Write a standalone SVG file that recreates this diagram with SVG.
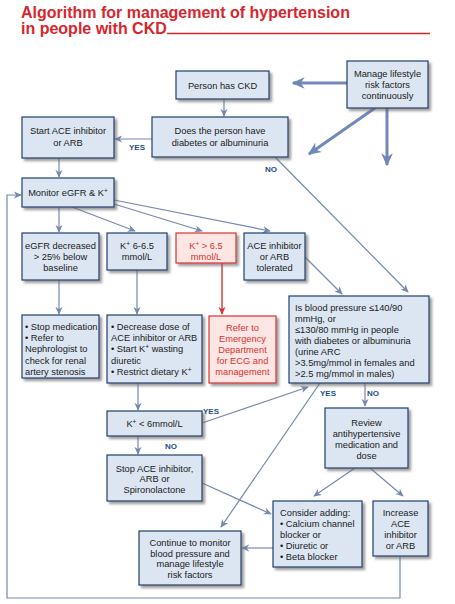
<svg xmlns="http://www.w3.org/2000/svg" width="455" height="604" viewBox="0 0 455 604">
<defs>
<filter id="sh" x="-10%" y="-10%" width="130%" height="130%">
<feDropShadow dx="2.5" dy="2.5" stdDeviation="1.2" flood-color="#6a6a6a" flood-opacity="0.65"/>
</filter>
<marker id="a" viewBox="0 0 10 10" refX="9" refY="5" markerWidth="8" markerHeight="8" markerUnits="userSpaceOnUse" orient="auto">
<path d="M0,0.5 L10,5 L0,9.5 L3,5 z" fill="#7488b1"/>
</marker>
<marker id="ar" viewBox="0 0 10 10" refX="9" refY="5" markerWidth="8" markerHeight="8" markerUnits="userSpaceOnUse" orient="auto">
<path d="M0,0.5 L10,5 L0,9.5 L3,5 z" fill="#d9322e"/>
</marker>
<marker id="at" viewBox="0 0 10 10" refX="9" refY="5" markerWidth="13" markerHeight="13" markerUnits="userSpaceOnUse" orient="auto">
<path d="M0,0.5 L10,5 L0,9.5 L3,5 z" fill="#7089b8"/>
</marker>
</defs>
<style>
.box{fill:#dce6f2;stroke:#1f3f6b;stroke-width:1.2;filter:url(#sh)}
.rbox{fill:#fde6e4;stroke:#d9322e;stroke-width:1.2;filter:url(#sh)}
text{font-family:"Liberation Sans",Arial,sans-serif;font-size:9.3px;fill:#1a1a1a}
.c{text-anchor:middle}
.r{fill:#d9322e}
.lbl{font-weight:bold;font-size:8px;fill:#1d4f86}
.title{font-weight:bold;font-size:16px;fill:#d7262e}
.ln{fill:none;stroke:#7488b1;stroke-width:1.2}
.lnr{fill:none;stroke:#d9322e;stroke-width:1.4}
.thk{fill:none;stroke:#7089b8;stroke-width:3}
.sup{font-size:6.5px}
</style>

<g id="title">
<text class="title" x="21" y="18">Algorithm for management of hypertension</text>
<text class="title" x="21" y="34">in people with CKD</text>
<line x1="167" y1="33.5" x2="430" y2="33.5" stroke="#d7262e" stroke-width="1.3"/>
</g>

<g id="connectors">
<line class="thk" x1="347" y1="83" x2="293" y2="83" marker-end="url(#at)"/>
<line class="thk" x1="375" y1="108" x2="309" y2="154" marker-end="url(#at)"/>
<line class="thk" x1="387" y1="108" x2="387" y2="165" marker-end="url(#at)"/>
<line class="ln" x1="224" y1="99" x2="224" y2="116" marker-end="url(#a)"/>
<line class="ln" x1="152" y1="139" x2="115" y2="139" marker-end="url(#a)"/>
<line class="ln" x1="275" y1="157" x2="408" y2="292" marker-end="url(#a)"/>
<line class="ln" x1="59" y1="158" x2="59" y2="177" marker-end="url(#a)"/>
<polyline class="ln" points="400,556 400,598 7,598 7,195 21,195" marker-end="url(#a)"/>
<line class="ln" x1="59" y1="207" x2="59" y2="232" marker-end="url(#a)"/>
<line class="ln" x1="72" y1="207" x2="135" y2="231" marker-end="url(#a)"/>
<line class="ln" x1="114" y1="204" x2="202" y2="231" marker-end="url(#a)"/>
<line class="ln" x1="114" y1="200" x2="270" y2="231" marker-end="url(#a)"/>
<line class="ln" x1="305" y1="257" x2="342" y2="294" marker-end="url(#a)"/>
<line class="ln" x1="59" y1="280" x2="59" y2="314" marker-end="url(#a)"/>
<line class="ln" x1="137" y1="270" x2="137" y2="314" marker-end="url(#a)"/>
<line class="lnr" x1="222" y1="263" x2="222" y2="314" marker-end="url(#ar)"/>
<line class="ln" x1="365" y1="383" x2="365" y2="406" marker-end="url(#a)"/>
<line class="ln" x1="138" y1="383" x2="138" y2="410" marker-end="url(#a)"/>
<line class="ln" x1="202" y1="423" x2="308" y2="387" marker-end="url(#a)"/>
<line class="ln" x1="320" y1="383" x2="221" y2="527" marker-end="url(#a)"/>
<line class="ln" x1="138" y1="436" x2="138" y2="454" marker-end="url(#a)"/>
<line class="ln" x1="202" y1="483" x2="271" y2="514" marker-end="url(#a)"/>
<line class="ln" x1="355" y1="468" x2="314" y2="496" marker-end="url(#a)"/>
<line class="ln" x1="370" y1="468" x2="403" y2="496" marker-end="url(#a)"/>
<line class="ln" x1="273" y1="548" x2="242" y2="548" marker-end="url(#a)"/>
<text class="lbl" x="129" y="150">YES</text>
<text class="lbl" x="265" y="172">NO</text>
<text class="lbl" x="320" y="396">YES</text>
<text class="lbl" x="367" y="396">NO</text>
<text class="lbl" x="203" y="414">YES</text>
<text class="lbl" x="165" y="449">NO</text>
</g>

<g id="person">
<rect class="box" x="176" y="71" width="93" height="28"/>
<text class="c" x="222.5" y="88.5">Person has CKD</text>
</g>
<g id="manage">
<rect class="box" x="347" y="61" width="81" height="47"/>
<text class="c" x="387.5" y="76.5">Manage lifestyle</text>
<text class="c" x="387.5" y="87.5">risk factors</text>
<text class="c" x="387.5" y="99">continuously</text>
</g>
<g id="does">
<rect class="box" x="152" y="117" width="136" height="40"/>
<text class="c" x="220" y="134">Does the person have</text>
<text class="c" x="220" y="146">diabetes or albuminuria</text>
</g>
<g id="start">
<rect class="box" x="22" y="117" width="92" height="41"/>
<text class="c" x="68" y="134">Start ACE inhibitor</text>
<text class="c" x="68" y="146">or ARB</text>
</g>
<g id="monitor">
<rect class="box" x="22" y="178" width="92" height="29"/>
<text class="c" x="68" y="196">Monitor eGFR &amp; K<tspan class="sup" baseline-shift="3.5">+</tspan></text>
</g>
<g id="egfr">
<rect class="box" x="22" y="233" width="77" height="47"/>
<text class="c" x="60.5" y="248.5">eGFR decreased</text>
<text class="c" x="60.5" y="259.5">&gt; 25% below</text>
<text class="c" x="60.5" y="270.5">baseline</text>
</g>
<g id="k66">
<rect class="box" x="107" y="233" width="60" height="37"/>
<text class="c" x="137" y="248.5">K<tspan class="sup" baseline-shift="3.5">+</tspan> 6-6.5</text>
<text class="c" x="137" y="259.5">mmol/L</text>
</g>
<g id="k65">
<rect class="rbox" x="176" y="233" width="60" height="30"/>
<text class="c r" x="206" y="248.5">K<tspan class="sup r" baseline-shift="3.5">+</tspan> &gt; 6.5</text>
<text class="c r" x="206" y="259.5">mmol/L</text>
</g>
<g id="acetol">
<rect class="box" x="244" y="233" width="61" height="47"/>
<text class="c" x="274.5" y="248.5">ACE inhibitor</text>
<text class="c" x="274.5" y="259.5">or ARB</text>
<text class="c" x="274.5" y="270.5">tolerated</text>
</g>
<g id="stopmed">
<rect class="box" x="22" y="315" width="77" height="63"/>
<text x="25" y="329.5">• Stop medication</text>
<text x="25" y="340.5">• Refer to</text>
<text x="25" y="352">Nephrologist to</text>
<text x="25" y="363.5">check for renal</text>
<text x="25" y="375">artery stenosis</text>
</g>
<g id="decrease">
<rect class="box" x="107" y="315" width="95" height="68"/>
<text x="111" y="329.5">• Decrease dose of</text>
<text x="111" y="340.5">ACE inhibitor or ARB</text>
<text x="111" y="352">• Start K<tspan class="sup" baseline-shift="3.5">+</tspan> wasting</text>
<text x="111" y="363.5">diuretic</text>
<text x="111" y="375">• Restrict dietary K<tspan class="sup" baseline-shift="3.5">+</tspan></text>
</g>
<g id="refer">
<rect class="rbox" x="209" y="316" width="67" height="67"/>
<text class="c r" x="242.5" y="331">Refer to</text>
<text class="c r" x="242.5" y="342">Emergency</text>
<text class="c r" x="242.5" y="353">Department</text>
<text class="c r" x="242.5" y="364">for ECG and</text>
<text class="c r" x="242.5" y="375">management</text>
</g>
<g id="bp">
<rect class="box" x="289" y="296" width="140" height="87"/>
<text x="295" y="311">Is blood pressure ≤140/90</text>
<text x="295" y="322">mmHg, or</text>
<text x="295" y="333">≤130/80 mmHg in people</text>
<text x="295" y="344">with diabetes or albuminuria</text>
<text x="295" y="355">(urine ARC</text>
<text x="295" y="366">&gt;3.5mg/mmol in females and</text>
<text x="295" y="377">&gt;2.5 mg/mmol in males)</text>
</g>
<g id="klt6">
<rect class="box" x="107" y="411" width="95" height="25"/>
<text class="c" x="154.5" y="426.5">K<tspan class="sup" baseline-shift="3.5">+</tspan> &lt; 6mmol/L</text>
</g>
<g id="stopace">
<rect class="box" x="107" y="455" width="95" height="46"/>
<text class="c" x="154.5" y="471.5">Stop ACE inhibitor,</text>
<text class="c" x="154.5" y="482">ARB or</text>
<text class="c" x="154.5" y="492.5">Spironolactone</text>
</g>
<g id="review">
<rect class="box" x="325" y="408" width="83" height="60"/>
<text class="c" x="366.5" y="425.5">Review</text>
<text class="c" x="366.5" y="436.5">antihypertensive</text>
<text class="c" x="366.5" y="447.5">medication and</text>
<text class="c" x="366.5" y="458.5">dose</text>
</g>
<g id="consider">
<rect class="box" x="273" y="501" width="89" height="66"/>
<text x="280" y="515.5">Consider adding:</text>
<text x="280" y="526.5">• Calcium channel</text>
<text x="280" y="537.5">blocker or</text>
<text x="280" y="549">• Diuretic or</text>
<text x="280" y="560">• Beta blocker</text>
</g>
<g id="increase">
<rect class="box" x="373" y="501" width="55" height="55"/>
<text class="c" x="400.5" y="515.5">Increase</text>
<text class="c" x="400.5" y="526.5">ACE</text>
<text class="c" x="400.5" y="537.5">inhibitor</text>
<text class="c" x="400.5" y="549">or ARB</text>
</g>
<g id="continue">
<rect class="box" x="139" y="531" width="102" height="54"/>
<text class="c" x="190" y="545.5">Continue to monitor</text>
<text class="c" x="190" y="556.5">blood pressure and</text>
<text class="c" x="190" y="567">manage lifestyle</text>
<text class="c" x="190" y="577.5">risk factors</text>
</g>
</svg>
